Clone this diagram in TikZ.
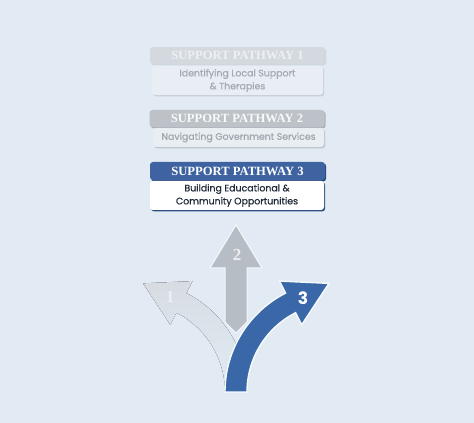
\documentclass[tikz,border=0pt]{standalone}
\usepackage{fontspec}
\setmainfont{Liberation Serif}
\newfontfamily\bodyfont[FakeBold=0.7]{Poppins}
\newfontfamily\numfont{Poppins}
\usetikzlibrary{calc,shadows}
% colours
\definecolor{bgblue}{HTML}{E2EBF4}
\definecolor{headone}{HTML}{D3D9DF}
\definecolor{headonetext}{HTML}{EEF1F4}
\definecolor{bodyone}{HTML}{E8EEF4}
\definecolor{bodyoneedge}{HTML}{C9D0D7}
\definecolor{bodyonetext}{HTML}{A3AAB2}
\definecolor{headtwo}{HTML}{BCC2C8}
\definecolor{headtwoedge}{HTML}{A9B0B7}
\definecolor{bodytwo}{HTML}{E9EEF3}
\definecolor{bodytwoedge}{HTML}{BDC4CB}
\definecolor{bodytwotext}{HTML}{9FA6AE}
\definecolor{headthree}{HTML}{3E63A0}
\definecolor{headthreeedge}{HTML}{2B4A7E}
\definecolor{bodythreeedge}{HTML}{2F4F82}
\definecolor{bodythreetext}{HTML}{1F2A36}
\definecolor{arrowone}{HTML}{D6DCE2}
\definecolor{arrowtwo}{HTML}{B6BDC5}
\definecolor{arrowthree}{HTML}{3A67A8}
\tikzset{
  header/.style={rounded corners=3pt, minimum width=175pt, minimum height=17pt,
    inner sep=0pt, font=\fontsize{12.6}{13}\selectfont\bfseries},
  bodybox/.style={rounded corners=3pt, minimum width=171pt, inner sep=0pt,
    align=center, font=\bodyfont\fontsize{9.4}{13}\selectfont},
  edge/.style={drop shadow={shadow xshift=1.2pt, shadow yshift=-1.4pt, opacity=1, fill=#1}},
  num/.style={inner sep=0pt, font=\fontsize{17}{17}\selectfont\bfseries},
}
\begin{document}
\begin{tikzpicture}[x=1pt,y=1pt]
  % background
  \fill[bgblue] (0,0) rectangle (474,423);
  \useasboundingbox (0,0) rectangle (474,423);
  % pathway 1
  \node[header, fill=headone, text=headonetext, edge=headone!85!black!40!bgblue] (h1) at (237.5,367.5) {SUPPORT PATHWAY 1};
  \node[bodybox, fill=bodyone, text=bodyonetext, minimum height=29pt, edge=bodyoneedge] (b1) at (237.5,342.5) {Identifying Local Support\\\& Therapies};
  % pathway 2
  \node[header, fill=headtwo, text=white!90!headtwo, edge=headtwoedge] (h2) at (237,304.5) {SUPPORT PATHWAY 2};
  \node[bodybox, fill=bodytwo, text=bodytwotext, minimum height=19pt, edge=bodytwoedge] (b2) at (238.5,285.5) {Navigating Government Services};
  % pathway 3
  \node[header, fill=headthree, text=white, minimum height=18pt, edge=headthreeedge] (h3) at (237.5,252) {SUPPORT PATHWAY 3};
  \node[bodybox, fill=white, text=bodythreetext, minimum width=174pt, minimum height=29pt, edge=bodythreeedge] (b3) at (237,227.5) {Building Educational \&\\Community Opportunities};
  % arrow 1 (left, fading out)
  \coordinate (c1) at (136,31);
  \fill[top color=arrowone, middle color=arrowone, bottom color=bgblue]
    ($(c1)+(0:111)$) arc[start angle=0, end angle=63, radius=111]
    -- ($(c1)+(63:124.5)$) -- ($(c1)+(63:100)+(153:43)$) -- ($(c1)+(63:75.5)$)
    -- ($(c1)+(63:89)$) arc[start angle=63, end angle=0, radius=89] -- cycle;
  \node[num, text=white!55!arrowone] (n1) at (170,126) {1};
  % arrow 2 (straight)
  \filldraw[fill=arrowtwo, draw=white!70!bgblue, line width=1pt]
    (225,101) -- (225,155) -- (210,155) -- (236,198) -- (262,155)
    -- (247,155) -- (247,101) -- (236,90) -- cycle;
  \node[num, text=white!75!arrowtwo] (n2) at (237,168) {2};
  % arrow 3 (right, chosen)
  \coordinate (c3) at (336,31);
  \filldraw[fill=arrowthree, draw=white!70!bgblue, line width=1.4pt]
    ($(c3)+(180:111)$) arc[start angle=180, end angle=117, radius=111]
    -- ($(c3)+(117:124.5)$) -- ($(c3)+(117:100)+(27:43)$) -- ($(c3)+(117:75.5)$)
    -- ($(c3)+(117:89)$) arc[start angle=117, end angle=180, radius=89] -- cycle;
  \node[num, text=white, font=\numfont\fontsize{17}{17}\selectfont\bfseries] (n3) at (303,125) {3};
\end{tikzpicture}
\end{document}
